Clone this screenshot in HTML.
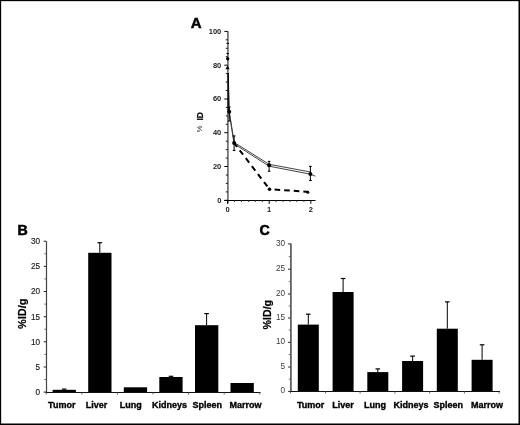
<!DOCTYPE html>
<html><head><meta charset="utf-8"><style>
html,body{margin:0;padding:0;background:#fff;}
#f{position:relative;width:520px;height:425px;overflow:hidden;background:#fff;}
svg{position:absolute;left:0;top:0;}
</style></head><body><div id="f">
<svg width="520" height="425" viewBox="0 0 520 425" font-family='"Liberation Sans", Arial, sans-serif'>
<rect x="0" y="0" width="520" height="425" fill="#fff"/>
<text x="190.7" y="27.7" font-size="15" font-weight="bold" stroke="#000" stroke-width="0.5">A</text>
<line x1="227.9" y1="31.2" x2="227.9" y2="203.3" stroke="#666" stroke-width="1.6"/>
<line x1="224.3" y1="200.5" x2="315.5" y2="200.5" stroke="#000" stroke-width="1.1"/>
<line x1="224.3" y1="200.3" x2="227.8" y2="200.3" stroke="#000" stroke-width="1"/>
<text x="221.3" y="202.7" font-size="7.5" font-weight="bold" text-anchor="end" fill="#1a1a1a">0</text>
<line x1="225.8" y1="191.9" x2="227.8" y2="191.9" stroke="#000" stroke-width="0.9"/>
<line x1="225.8" y1="183.4" x2="227.8" y2="183.4" stroke="#000" stroke-width="0.9"/>
<line x1="225.8" y1="175.0" x2="227.8" y2="175.0" stroke="#000" stroke-width="0.9"/>
<line x1="224.3" y1="166.5" x2="227.8" y2="166.5" stroke="#000" stroke-width="1"/>
<text x="221.3" y="168.9" font-size="7.5" font-weight="bold" text-anchor="end" fill="#1a1a1a">20</text>
<line x1="225.8" y1="158.1" x2="227.8" y2="158.1" stroke="#000" stroke-width="0.9"/>
<line x1="225.8" y1="149.6" x2="227.8" y2="149.6" stroke="#000" stroke-width="0.9"/>
<line x1="225.8" y1="141.2" x2="227.8" y2="141.2" stroke="#000" stroke-width="0.9"/>
<line x1="224.3" y1="132.7" x2="227.8" y2="132.7" stroke="#000" stroke-width="1"/>
<text x="221.3" y="135.1" font-size="7.5" font-weight="bold" text-anchor="end" fill="#1a1a1a">40</text>
<line x1="225.8" y1="124.3" x2="227.8" y2="124.3" stroke="#000" stroke-width="0.9"/>
<line x1="225.8" y1="115.9" x2="227.8" y2="115.9" stroke="#000" stroke-width="0.9"/>
<line x1="225.8" y1="107.4" x2="227.8" y2="107.4" stroke="#000" stroke-width="0.9"/>
<line x1="224.3" y1="99.0" x2="227.8" y2="99.0" stroke="#000" stroke-width="1"/>
<text x="221.3" y="101.4" font-size="7.5" font-weight="bold" text-anchor="end" fill="#1a1a1a">60</text>
<line x1="225.8" y1="90.5" x2="227.8" y2="90.5" stroke="#000" stroke-width="0.9"/>
<line x1="225.8" y1="82.1" x2="227.8" y2="82.1" stroke="#000" stroke-width="0.9"/>
<line x1="225.8" y1="73.6" x2="227.8" y2="73.6" stroke="#000" stroke-width="0.9"/>
<line x1="224.3" y1="65.2" x2="227.8" y2="65.2" stroke="#000" stroke-width="1"/>
<text x="221.3" y="67.6" font-size="7.5" font-weight="bold" text-anchor="end" fill="#1a1a1a">80</text>
<line x1="225.8" y1="56.7" x2="227.8" y2="56.7" stroke="#000" stroke-width="0.9"/>
<line x1="225.8" y1="48.3" x2="227.8" y2="48.3" stroke="#000" stroke-width="0.9"/>
<line x1="225.8" y1="39.8" x2="227.8" y2="39.8" stroke="#000" stroke-width="0.9"/>
<line x1="224.3" y1="31.4" x2="227.8" y2="31.4" stroke="#000" stroke-width="1"/>
<text x="221.3" y="33.8" font-size="7.5" font-weight="bold" text-anchor="end" fill="#1a1a1a">100</text>
<line x1="227.6" y1="200.3" x2="227.6" y2="203.8" stroke="#000" stroke-width="1"/>
<text x="227.6" y="212" font-size="7.5" font-weight="bold" text-anchor="middle" fill="#222">0</text>
<line x1="234.5" y1="200.3" x2="234.5" y2="202.10000000000002" stroke="#333" stroke-width="0.9"/>
<line x1="241.5" y1="200.3" x2="241.5" y2="202.10000000000002" stroke="#333" stroke-width="0.9"/>
<line x1="248.4" y1="200.3" x2="248.4" y2="202.10000000000002" stroke="#333" stroke-width="0.9"/>
<line x1="255.3" y1="200.3" x2="255.3" y2="202.10000000000002" stroke="#333" stroke-width="0.9"/>
<line x1="262.3" y1="200.3" x2="262.3" y2="202.10000000000002" stroke="#333" stroke-width="0.9"/>
<line x1="269.2" y1="200.3" x2="269.2" y2="203.8" stroke="#000" stroke-width="1"/>
<text x="269.2" y="212" font-size="7.5" font-weight="bold" text-anchor="middle" fill="#222">1</text>
<line x1="276.1" y1="200.3" x2="276.1" y2="202.10000000000002" stroke="#333" stroke-width="0.9"/>
<line x1="283.1" y1="200.3" x2="283.1" y2="202.10000000000002" stroke="#333" stroke-width="0.9"/>
<line x1="290.0" y1="200.3" x2="290.0" y2="202.10000000000002" stroke="#333" stroke-width="0.9"/>
<line x1="296.9" y1="200.3" x2="296.9" y2="202.10000000000002" stroke="#333" stroke-width="0.9"/>
<line x1="303.9" y1="200.3" x2="303.9" y2="202.10000000000002" stroke="#333" stroke-width="0.9"/>
<line x1="310.8" y1="200.3" x2="310.8" y2="203.8" stroke="#000" stroke-width="1"/>
<text x="310.8" y="212" font-size="7.5" font-weight="bold" text-anchor="middle" fill="#222">2</text>
<text transform="translate(202.8,120.6) rotate(-90) scale(1,1.13)" font-size="8.6" font-weight="bold" fill="#111" stroke="#111" stroke-width="0.2">ID</text>
<text transform="translate(202.3,128.9) rotate(-90)" font-size="7.5" text-anchor="middle" fill="#333">%</text>
<polyline points="228.0,73.0 229.2,111.0 234.1,142.4 269.1,164.3 310.5,172.0" fill="none" stroke="#3a3a3a" stroke-width="0.95"/>
<polyline points="228.3,73.0 229.2,112.5 234.1,143.8 269.1,166.2 310.5,174.2 315.4,176.2" fill="none" stroke="#3a3a3a" stroke-width="0.95"/>
<line x1="234.3" y1="143.2" x2="269.5" y2="189.2" stroke="#000" stroke-width="2" stroke-dasharray="5.6,4.4" stroke-dashoffset="1.1"/>
<line x1="269.5" y1="189.2" x2="308.8" y2="191.9" stroke="#000" stroke-width="2" stroke-dasharray="5.6,4.0" stroke-dashoffset="4.5"/>
<circle cx="269.5" cy="189.3" r="1.8" fill="#000"/>
<circle cx="307.8" cy="192.2" r="1.5" fill="#000"/>
<circle cx="227.7" cy="58.8" r="1.7" fill="#000"/>
<polygon points="225.4,69.3 229.6,69.3 227.5,65.6" fill="#000"/>
<line x1="226.5" y1="43.4" x2="229.0" y2="43.4" stroke="#000" stroke-width="1.1"/>
<line x1="226.5" y1="53.6" x2="229.0" y2="53.6" stroke="#000" stroke-width="1.1"/>
<line x1="228.2" y1="73" x2="228.2" y2="110" stroke="#000" stroke-width="1.2"/>
<circle cx="229.2" cy="111.8" r="2.0" fill="#000"/>
<circle cx="234.1" cy="143.0" r="2.0" fill="#000"/>
<circle cx="269.1" cy="165.2" r="2.0" fill="#000"/>
<circle cx="310.4" cy="174.0" r="2.0" fill="#000"/>
<line x1="229.2" y1="107.0" x2="229.2" y2="121.0" stroke="#000" stroke-width="1"/>
<line x1="227.9" y1="107.0" x2="230.5" y2="107.0" stroke="#000" stroke-width="1.1"/>
<line x1="227.9" y1="121.0" x2="230.5" y2="121.0" stroke="#000" stroke-width="1.1"/>
<line x1="234.1" y1="135.9" x2="234.1" y2="150.4" stroke="#000" stroke-width="1"/>
<line x1="232.8" y1="135.9" x2="235.4" y2="135.9" stroke="#000" stroke-width="1.1"/>
<line x1="232.8" y1="150.4" x2="235.4" y2="150.4" stroke="#000" stroke-width="1.1"/>
<line x1="269.1" y1="161.4" x2="269.1" y2="171.2" stroke="#000" stroke-width="1"/>
<line x1="267.8" y1="161.4" x2="270.4" y2="161.4" stroke="#000" stroke-width="1.1"/>
<line x1="267.8" y1="171.2" x2="270.4" y2="171.2" stroke="#000" stroke-width="1.1"/>
<line x1="310.4" y1="166.4" x2="310.4" y2="180.5" stroke="#000" stroke-width="1"/>
<line x1="309.1" y1="166.4" x2="311.7" y2="166.4" stroke="#000" stroke-width="1.1"/>
<line x1="309.1" y1="180.5" x2="311.7" y2="180.5" stroke="#000" stroke-width="1.1"/>
<text x="17.6" y="235.0" font-size="14.2" font-weight="bold" stroke="#000" stroke-width="0.55">B</text>
<rect x="52.6" y="389.8" width="23.3" height="2.3" fill="#000"/>
<line x1="64.2" y1="389.1" x2="64.2" y2="389.8" stroke="#000" stroke-width="1"/>
<line x1="61.9" y1="389.1" x2="66.5" y2="389.1" stroke="#000" stroke-width="1.2"/>
<rect x="88.2" y="252.8" width="23.3" height="139.3" fill="#000"/>
<line x1="99.8" y1="242.7" x2="99.8" y2="252.8" stroke="#000" stroke-width="1"/>
<line x1="97.5" y1="242.7" x2="102.1" y2="242.7" stroke="#000" stroke-width="1.2"/>
<rect x="123.8" y="387.3" width="23.3" height="4.8" fill="#000"/>
<rect x="159.3" y="377.0" width="23.3" height="15.1" fill="#000"/>
<line x1="171.0" y1="376.3" x2="171.0" y2="377.0" stroke="#000" stroke-width="1"/>
<line x1="168.7" y1="376.3" x2="173.3" y2="376.3" stroke="#000" stroke-width="1.2"/>
<rect x="195.0" y="325.2" width="23.3" height="66.9" fill="#000"/>
<line x1="206.6" y1="313.6" x2="206.6" y2="325.2" stroke="#000" stroke-width="1"/>
<line x1="204.3" y1="313.6" x2="208.9" y2="313.6" stroke="#000" stroke-width="1.2"/>
<rect x="230.5" y="383.0" width="23.3" height="9.1" fill="#000"/>
<line x1="46.5" y1="241.2" x2="46.5" y2="393.0" stroke="#444" stroke-width="1.2"/>
<line x1="45.7" y1="392.5" x2="260.5" y2="392.5" stroke="#111" stroke-width="1.05"/>
<line x1="43.7" y1="392.1" x2="46.2" y2="392.1" stroke="#222" stroke-width="1"/>
<text x="40.0" y="395.0" font-size="8.2" text-anchor="end" fill="#1a1a1a" stroke="#1a1a1a" stroke-width="0.15">0</text>
<line x1="44.400000000000006" y1="379.5" x2="46.2" y2="379.5" stroke="#444" stroke-width="0.8"/>
<line x1="43.7" y1="367.0" x2="46.2" y2="367.0" stroke="#222" stroke-width="1"/>
<text x="40.0" y="369.9" font-size="8.2" text-anchor="end" fill="#1a1a1a" stroke="#1a1a1a" stroke-width="0.15">5</text>
<line x1="44.400000000000006" y1="354.4" x2="46.2" y2="354.4" stroke="#444" stroke-width="0.8"/>
<line x1="43.7" y1="341.8" x2="46.2" y2="341.8" stroke="#222" stroke-width="1"/>
<text x="40.0" y="344.7" font-size="8.2" text-anchor="end" fill="#1a1a1a" stroke="#1a1a1a" stroke-width="0.15">10</text>
<line x1="44.400000000000006" y1="329.2" x2="46.2" y2="329.2" stroke="#444" stroke-width="0.8"/>
<line x1="43.7" y1="316.7" x2="46.2" y2="316.7" stroke="#222" stroke-width="1"/>
<text x="40.0" y="319.6" font-size="8.2" text-anchor="end" fill="#1a1a1a" stroke="#1a1a1a" stroke-width="0.15">15</text>
<line x1="44.400000000000006" y1="304.1" x2="46.2" y2="304.1" stroke="#444" stroke-width="0.8"/>
<line x1="43.7" y1="291.5" x2="46.2" y2="291.5" stroke="#222" stroke-width="1"/>
<text x="40.0" y="294.4" font-size="8.2" text-anchor="end" fill="#1a1a1a" stroke="#1a1a1a" stroke-width="0.15">20</text>
<line x1="44.400000000000006" y1="278.9" x2="46.2" y2="278.9" stroke="#444" stroke-width="0.8"/>
<line x1="43.7" y1="266.4" x2="46.2" y2="266.4" stroke="#222" stroke-width="1"/>
<text x="40.0" y="269.2" font-size="8.2" text-anchor="end" fill="#1a1a1a" stroke="#1a1a1a" stroke-width="0.15">25</text>
<line x1="44.400000000000006" y1="253.8" x2="46.2" y2="253.8" stroke="#444" stroke-width="0.8"/>
<line x1="43.7" y1="241.2" x2="46.2" y2="241.2" stroke="#222" stroke-width="1"/>
<text x="40.0" y="244.1" font-size="8.2" text-anchor="end" fill="#1a1a1a" stroke="#1a1a1a" stroke-width="0.15">30</text>
<line x1="46.2" y1="392.5" x2="46.2" y2="394.5" stroke="#555" stroke-width="0.9"/>
<line x1="81.8" y1="392.5" x2="81.8" y2="394.5" stroke="#555" stroke-width="0.9"/>
<line x1="117.4" y1="392.5" x2="117.4" y2="394.5" stroke="#555" stroke-width="0.9"/>
<line x1="153.0" y1="392.5" x2="153.0" y2="394.5" stroke="#555" stroke-width="0.9"/>
<line x1="188.6" y1="392.5" x2="188.6" y2="394.5" stroke="#555" stroke-width="0.9"/>
<line x1="224.2" y1="392.5" x2="224.2" y2="394.5" stroke="#555" stroke-width="0.9"/>
<line x1="259.8" y1="392.5" x2="259.8" y2="394.5" stroke="#555" stroke-width="0.9"/>
<text x="48.1" y="407.6" font-size="9" font-weight="bold" stroke="#000" stroke-width="0.35">Tumor</text>
<text x="85.7" y="407.6" font-size="9" font-weight="bold" stroke="#000" stroke-width="0.35">Liver</text>
<text x="119.7" y="407.6" font-size="9" font-weight="bold" stroke="#000" stroke-width="0.35">Lung</text>
<text x="152.0" y="407.6" font-size="9" font-weight="bold" stroke="#000" stroke-width="0.35">Kidneys</text>
<text x="192.5" y="407.6" font-size="9" font-weight="bold" stroke="#000" stroke-width="0.35">Spleen</text>
<text x="229.5" y="407.6" font-size="9" font-weight="bold" stroke="#000" stroke-width="0.35">Marrow</text>
<text transform="translate(25.8,313.8) rotate(-90)" font-size="11" font-weight="bold" text-anchor="middle" stroke="#000" stroke-width="0.2">%ID/g</text>
<text x="259.6" y="235.2" font-size="14.2" font-weight="bold" stroke="#000" stroke-width="0.55">C</text>
<rect x="297.8" y="324.6" width="21" height="67.0" fill="#000"/>
<line x1="308.3" y1="314.2" x2="308.3" y2="324.6" stroke="#000" stroke-width="1"/>
<line x1="306.0" y1="314.2" x2="310.6" y2="314.2" stroke="#000" stroke-width="1.2"/>
<rect x="332.6" y="292.0" width="21" height="99.6" fill="#000"/>
<line x1="343.1" y1="278.5" x2="343.1" y2="292.0" stroke="#000" stroke-width="1"/>
<line x1="340.8" y1="278.5" x2="345.4" y2="278.5" stroke="#000" stroke-width="1.2"/>
<rect x="367.3" y="372.1" width="21" height="19.5" fill="#000"/>
<line x1="377.8" y1="368.9" x2="377.8" y2="372.1" stroke="#000" stroke-width="1"/>
<line x1="375.5" y1="368.9" x2="380.1" y2="368.9" stroke="#000" stroke-width="1.2"/>
<rect x="402.1" y="361.0" width="21" height="30.6" fill="#000"/>
<line x1="412.6" y1="356.1" x2="412.6" y2="361.0" stroke="#000" stroke-width="1"/>
<line x1="410.2" y1="356.1" x2="414.9" y2="356.1" stroke="#000" stroke-width="1.2"/>
<rect x="436.8" y="328.7" width="21" height="62.9" fill="#000"/>
<line x1="447.3" y1="301.9" x2="447.3" y2="328.7" stroke="#000" stroke-width="1"/>
<line x1="445.0" y1="301.9" x2="449.6" y2="301.9" stroke="#000" stroke-width="1.2"/>
<rect x="471.6" y="359.8" width="21" height="31.8" fill="#000"/>
<line x1="482.1" y1="344.8" x2="482.1" y2="359.8" stroke="#000" stroke-width="1"/>
<line x1="479.8" y1="344.8" x2="484.4" y2="344.8" stroke="#000" stroke-width="1.2"/>
<line x1="290.9" y1="243.6" x2="290.9" y2="392.0" stroke="#505050" stroke-width="1.6"/>
<line x1="290.09999999999997" y1="391.5" x2="500" y2="391.5" stroke="#111" stroke-width="1.05"/>
<line x1="288.1" y1="391.4" x2="290.6" y2="391.4" stroke="#222" stroke-width="1"/>
<text x="285.0" y="393.3" font-size="8.2" text-anchor="end" fill="#3a3a3a" stroke="#3a3a3a" stroke-width="0">0</text>
<line x1="288.8" y1="379.2" x2="290.6" y2="379.2" stroke="#444" stroke-width="0.8"/>
<line x1="288.1" y1="367.0" x2="290.6" y2="367.0" stroke="#222" stroke-width="1"/>
<text x="285.0" y="368.9" font-size="8.2" text-anchor="end" fill="#3a3a3a" stroke="#3a3a3a" stroke-width="0">5</text>
<line x1="288.8" y1="354.6" x2="290.6" y2="354.6" stroke="#444" stroke-width="0.8"/>
<line x1="288.1" y1="342.3" x2="290.6" y2="342.3" stroke="#222" stroke-width="1"/>
<text x="285.0" y="344.2" font-size="8.2" text-anchor="end" fill="#3a3a3a" stroke="#3a3a3a" stroke-width="0">10</text>
<line x1="288.8" y1="330.1" x2="290.6" y2="330.1" stroke="#444" stroke-width="0.8"/>
<line x1="288.1" y1="318.0" x2="290.6" y2="318.0" stroke="#222" stroke-width="1"/>
<text x="285.0" y="319.9" font-size="8.2" text-anchor="end" fill="#3a3a3a" stroke="#3a3a3a" stroke-width="0">15</text>
<line x1="288.8" y1="306.0" x2="290.6" y2="306.0" stroke="#444" stroke-width="0.8"/>
<line x1="288.1" y1="294.0" x2="290.6" y2="294.0" stroke="#222" stroke-width="1"/>
<text x="285.0" y="295.9" font-size="8.2" text-anchor="end" fill="#3a3a3a" stroke="#3a3a3a" stroke-width="0">20</text>
<line x1="288.8" y1="281.6" x2="290.6" y2="281.6" stroke="#444" stroke-width="0.8"/>
<line x1="288.1" y1="269.2" x2="290.6" y2="269.2" stroke="#222" stroke-width="1"/>
<text x="285.0" y="271.1" font-size="8.2" text-anchor="end" fill="#3a3a3a" stroke="#3a3a3a" stroke-width="0">25</text>
<line x1="288.8" y1="256.6" x2="290.6" y2="256.6" stroke="#444" stroke-width="0.8"/>
<line x1="288.1" y1="243.9" x2="290.6" y2="243.9" stroke="#222" stroke-width="1"/>
<text x="285.0" y="245.8" font-size="8.2" text-anchor="end" fill="#3a3a3a" stroke="#3a3a3a" stroke-width="0">30</text>
<line x1="290.6" y1="391.5" x2="290.6" y2="393.5" stroke="#555" stroke-width="0.9"/>
<line x1="325.4" y1="391.5" x2="325.4" y2="393.5" stroke="#555" stroke-width="0.9"/>
<line x1="360.1" y1="391.5" x2="360.1" y2="393.5" stroke="#555" stroke-width="0.9"/>
<line x1="394.9" y1="391.5" x2="394.9" y2="393.5" stroke="#555" stroke-width="0.9"/>
<line x1="429.6" y1="391.5" x2="429.6" y2="393.5" stroke="#555" stroke-width="0.9"/>
<line x1="464.4" y1="391.5" x2="464.4" y2="393.5" stroke="#555" stroke-width="0.9"/>
<line x1="499.1" y1="391.5" x2="499.1" y2="393.5" stroke="#555" stroke-width="0.9"/>
<text x="296.9" y="407.6" font-size="9" font-weight="bold" stroke="#000" stroke-width="0.35">Tumor</text>
<text x="332.3" y="407.6" font-size="9" font-weight="bold" stroke="#000" stroke-width="0.35">Liver</text>
<text x="363.9" y="407.6" font-size="9" font-weight="bold" stroke="#000" stroke-width="0.35">Lung</text>
<text x="393.5" y="407.6" font-size="9" font-weight="bold" stroke="#000" stroke-width="0.35">Kidneys</text>
<text x="433.5" y="407.6" font-size="9" font-weight="bold" stroke="#000" stroke-width="0.35">Spleen</text>
<text x="470.9" y="407.6" font-size="9" font-weight="bold" stroke="#000" stroke-width="0.35">Marrow</text>
<text transform="translate(270.6,314.7) rotate(-90)" font-size="10.7" font-weight="bold" text-anchor="middle" stroke="#000" stroke-width="0.2">%ID/g</text>
<rect x="0" y="0" width="520" height="1.15" fill="#000"/>
<rect x="0" y="0" width="1.15" height="425" fill="#000"/>
<rect x="518.5" y="0" width="1.5" height="425" fill="#000"/>
<rect x="0" y="423.5" width="520" height="1.5" fill="#000"/>
</svg></div></body></html>
